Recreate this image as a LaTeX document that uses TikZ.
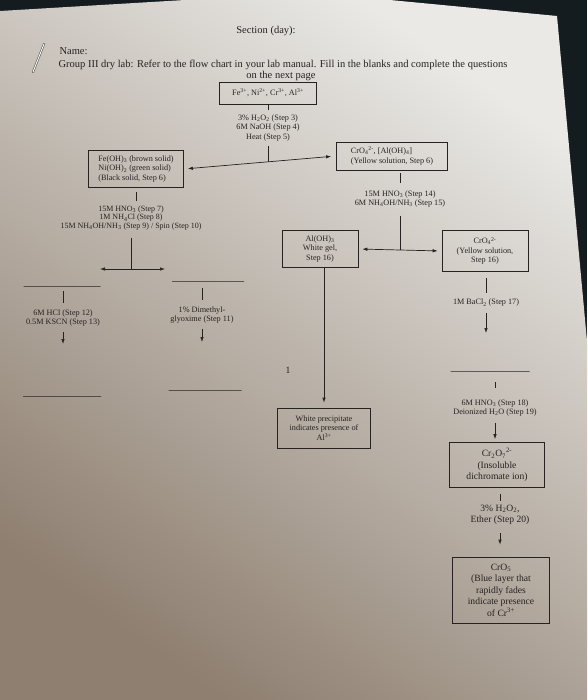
\documentclass[tikz,border=0pt]{standalone}
\usepackage{fontspec}
\setmainfont{Liberation Serif}
\usetikzlibrary{arrows.meta,calc}
\definecolor{ink}{RGB}{38,34,34}
\definecolor{desk}{RGB}{20,28,32}
\definecolor{paperTop}{RGB}{234,233,230}
\definecolor{paperMid}{RGB}{212,206,198}
\definecolor{paperBot}{RGB}{142,127,112}
\newcommand{\labfont}{\fontsize{8.2}{9.5}\selectfont}
\newcommand{\bigfont}{\fontsize{9.6}{11.5}\selectfont}
\newcommand{\headfont}{\fontsize{10.5}{12}\selectfont}
\tikzset{
  lbl/.style={font=\labfont, text=ink, align=center, inner sep=0pt},
  bx/.style={draw=ink, line width=0.7pt, font=\labfont, text=ink, align=center, inner sep=2pt},
  blank/.style={draw=ink, line width=0.7pt, minimum width=#1, minimum height=0pt, inner sep=0pt},
  arr/.style={-{Latex[length=5pt,width=3.5pt]}, draw=ink, line width=0.7pt},
  tick/.style={draw=ink, line width=0.7pt},
}
\begin{document}
\begin{tikzpicture}[x=1pt,y=-1pt]
\useasboundingbox (0,0) rectangle (587,700);
\fill[desk] (0,0) rectangle (587,700);
\shade[top color=paperTop, middle color=paperMid, bottom color=paperBot, shading angle=-35]
  (0,11) -- (185,0) -- (390,0) -- (557,16) -- (587,341) -- (587,700) -- (0,700) -- cycle;
\draw[line width=2pt, gray!60!black, line cap=round] (33,72) -- (44,44);
\draw[line width=0.9pt, white, line cap=round] (33,72) -- (44,44);

\node[font=\headfont, text=ink] (sec) at (266,31) {Section (day):};
\node[font=\headfont, text=ink, anchor=west] (nm) at (56,51) {Name:};
\node[font=\headfont, text=ink] (grp) at (283,65) {Group III dry lab: Refer to the flow chart in your lab manual. Fill in the blanks and complete the questions};
\node[font=\headfont, text=ink] (nxt) at (281,76) {on the next page};

\node[bx, minimum width=97pt, minimum height=22pt] (ions) at (268,93) {Fe\textsuperscript{3+}, Ni\textsuperscript{2+}, Cr\textsuperscript{3+}, Al\textsuperscript{3+}};
\node[lbl] (hpx) at (268,128) {3\% H\textsubscript{2}O\textsubscript{2} (Step 3)\\6M NaOH (Step 4)\\Heat (Step 5)};
\node[bx, align=left, minimum width=95pt, minimum height=37pt] (feni) at (136,169) {Fe(OH)\textsubscript{3} (brown solid)\\Ni(OH)\textsubscript{2} (green solid)\\(Black solid, Step 6)};
\node[bx, align=left, minimum width=111pt, minimum height=28pt] (cral) at (392,156) {CrO\textsubscript{4}\textsuperscript{2-}, [Al(OH)\textsubscript{4}]\\(Yellow solution, Step 6)};
\coordinate (split) at ($(feni.east)!0.55!(cral.west)$);
\draw[tick, shorten >=5pt] (ions.south) -- (ions.south |- hpx.north);
\draw[tick, shorten <=5pt] (hpx.south) -- (hpx.south |- split);
\draw[arr, shorten >=4pt] (split) -- (feni.east);
\draw[arr, shorten >=5pt] (split) -- (cral.west);

\node[lbl, font=\fontsize{8}{8.6}\selectfont] (ammonia) at (131,218) {15M HNO\textsubscript{3} (Step 7)\\1M NH\textsubscript{4}Cl (Step 8)\\15M NH\textsubscript{4}OH/NH\textsubscript{3} (Step 9) / Spin (Step 10)};
\draw[tick, shorten <=4pt, shorten >=5pt] (feni.south) -- (feni.south |- ammonia.north);
\coordinate (split2) at (132,269);
\coordinate (toFe) at (100,269);
\coordinate (toNi) at (165,269);
\draw[tick, shorten <=8pt] (ammonia.south) -- (ammonia.south |- split2);
\draw[arr] (split2) -- (toFe);
\draw[arr] (split2) -- (toNi);

\node[blank=77pt] (feblank) at (62,286) {};
\node[blank=72pt] (niblank) at (208,281) {};
\node[lbl] (thio) at (63,318) {6M HCl (Step 12)\\0.5M KSCN (Step 13)};
\node[lbl] (dmg) at (202,315) {1\% Dimethyl-\\glyoxime (Step 11)};
\draw[tick, shorten <=5pt, shorten >=6pt] (thio.north |- feblank.south) -- (thio.north);
\draw[tick, shorten <=7pt, shorten >=6pt] (dmg.north |- niblank.south) -- (dmg.north);
\coordinate (feend) at (65,344);
\coordinate (niend) at (203,342);
\draw[arr, shorten <=5pt] (thio.south) -- (thio.south |- feend);
\draw[arr, shorten <=5pt] (dmg.south) -- (dmg.south |- niend);
\node[blank=78pt] (fcblank) at (62,396) {};
\node[blank=73pt] (dgblank) at (205,390) {};

\node[lbl] (nitric) at (400,199) {15M HNO\textsubscript{3} (Step 14)\\6M NH\textsubscript{4}OH/NH\textsubscript{3} (Step 15)};
\draw[tick, shorten <=3pt, shorten >=7pt] (cral.south -| nitric.north) -- (nitric.north);
\node[bx, minimum width=76pt, minimum height=37pt] (aloh) at (320,249) {Al(OH)\textsubscript{3}\\White gel,\\Step 16)};
\node[bx, minimum width=86pt, minimum height=41pt] (chromate) at (485,251) {CrO\textsubscript{4}\textsuperscript{2-}\\(Yellow solution,\\Step 16)};
\coordinate (split3) at ($(aloh.east)!0.5!(chromate.west)$);
\draw[tick, shorten <=8pt] (nitric.south) -- (nitric.south |- split3);
\draw[arr, shorten >=4pt] (split3) -- (aloh.east);
\draw[arr, shorten >=4pt] (split3) -- (chromate.west);

\node[bx, minimum width=93pt, minimum height=40pt] (whitepp) at (324,428) {White precipitate\\indicates presence of\\Al\textsuperscript{3+}};
\draw[arr, shorten >=5pt] (whitepp.north |- aloh.south) -- (whitepp.north);
\node[lbl, font=\bigfont] (one) at (288,370) {1};

\node[lbl] (barium) at (486,303) {1M BaCl\textsubscript{2} (Step 17)};
\draw[tick, shorten <=6pt, shorten >=6pt] (chromate.south -| barium.north) -- (barium.north);
\coordinate (baend) at (487,333);
\draw[arr, shorten <=6pt] (barium.south) -- (barium.south |- baend);
\node[blank=79pt] (bablank) at (490,371) {};
\node[lbl] (acid) at (495,408) {6M HNO\textsubscript{3} (Step 18)\\Deionized H\textsubscript{2}O (Step 19)};
\draw[tick, shorten <=11pt, shorten >=11pt] (acid.north |- bablank.south) -- (acid.north);
\node[bx, font=\bigfont, minimum width=95pt, minimum height=45pt] (dichro) at (497,465) {Cr\textsubscript{2}O\textsubscript{7}\textsuperscript{2-}\\(Insoluble\\dichromate ion)};
\draw[arr, shorten <=6pt, shorten >=3pt] (acid.south) -- (acid.south |- dichro.north);
\node[lbl, font=\bigfont] (ether) at (500,515) {3\% H\textsubscript{2}O\textsubscript{2},\\Ether (Step 20)};
\draw[tick, shorten <=6pt, shorten >=4pt] (dichro.south -| ether.north) -- (ether.north);
\node[bx, font=\bigfont, minimum width=97pt, minimum height=66pt] (perox) at (501,590) {CrO\textsubscript{5}\\(Blue layer that\\rapidly fades\\indicate presence\\of Cr\textsuperscript{3+}};
\draw[arr, shorten <=8pt, shorten >=12pt] (ether.south) -- (ether.south |- perox.north);
\end{tikzpicture}
\end{document}
